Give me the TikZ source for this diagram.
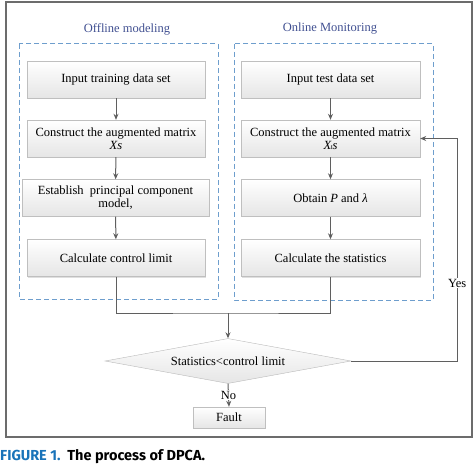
\documentclass[tikz,border=0pt]{standalone}
\usepackage{fontspec}
\setmainfont{Liberation Serif}
\newfontfamily\capfont{Fira Sans}
\usetikzlibrary{shapes,shapes.geometric,arrows.meta,calc,shadows}
\definecolor{dashblue}{RGB}{110,158,205}
\definecolor{titleblue}{RGB}{65,80,145}
\definecolor{capblue}{RGB}{25,115,185}
\definecolor{linegray}{RGB}{95,95,95}
\tikzset{
  stepbox/.style={draw=gray!50, top color=white, bottom color=gray!20, minimum height=37pt, align=center, inner sep=2pt, drop shadow={shadow xshift=1pt, shadow yshift=-1pt, opacity=0.25}},
  flow/.style={draw=linegray, line width=1pt, -{Stealth[length=6pt,width=5pt]}},
  link/.style={draw=linegray, line width=1pt}
}
\begin{document}
\begin{tikzpicture} [x=1pt, y=-1pt, font=\fontsize{12.5}{14}\selectfont]
		\useasboundingbox (0,0) rectangle (474,465);
		\draw [gray!85!black, line width=1.8pt] (6,2) rectangle (472,437);
		\draw [dashblue, dash pattern=on 5pt off 3pt, line width=1pt] (19,44) rectangle (218,299) (234,44) rectangle (433,300);
		\node [titleblue] (offt) at (127,29) {Offline modeling};
		\node [titleblue] (onlt) at (330,29) {Online Monitoring};
		\node [stepbox, minimum width=178pt] (L1) at (116,79.5) {Input training data set};
		\node [stepbox, minimum width=178pt] (L2) at (116,138.5) {Construct the augmented matrix\\[-1pt] \textit{Xs}};
		\node [stepbox, minimum width=187pt] (L3) at (115.5,198) {Establish \ principal component\\[-1pt] model,};
		\node [stepbox, minimum width=178pt] (L4) at (116,258) {Calculate control limit};
		\node [stepbox, minimum width=179pt] (R1) at (330.5,79.5) {Input test data set};
		\node [stepbox, minimum width=179pt] (R2) at (330.5,138.5) {Construct the augmented matrix\\[-1pt] \textit{X\kern-0.5pt{\scriptsize t}s}};
		\node [stepbox, minimum width=179pt] (R3) at (330.5,198) {Obtain \textit{P} and \textit{λ}};
		\node [stepbox, minimum width=179pt] (R4) at (330.5,258) {Calculate the statistics};
		\node [diamond, draw=gray!55, top color=white, bottom color=gray!20, minimum width=246pt, minimum height=45pt, shape aspect=5.5, inner sep=0pt] (dia) at (228,361) {Statistics<control limit};
		\node [stepbox, minimum width=72pt, minimum height=21pt] (fault) at (229,417.5) {Fault};
		\coordinate (m) at (228,313);
		\draw [flow] (L1) -- (L2);
		\draw [flow] (L2) -- (L3);
		\draw [flow] (L3) -- (L4);
		\draw [flow] (R1) -- (R2);
		\draw [flow] (R2) -- (R3);
		\draw [flow] (R3) -- (R4);
		\draw [link] (L4.south) |- (m) -| (R4.south);
		\draw [flow] (m) -- (dia.north);
		\draw [flow] (dia.south) -- node [fill=white, inner sep=1pt] {No} (fault.north);
		\draw [flow] (dia.east) -- ++(106,0) |- node [pos=0.175, fill=white, inner sep=1pt] {Yes} (R2.east);
		\node [anchor=west, inner sep=0pt, font=\capfont\bfseries\fontsize{14.5}{16}\selectfont] (cap) at (0,457) {\textcolor{capblue}{FIGURE 1.}\ \ The process of DPCA.};
\end{tikzpicture}
\end{document}
